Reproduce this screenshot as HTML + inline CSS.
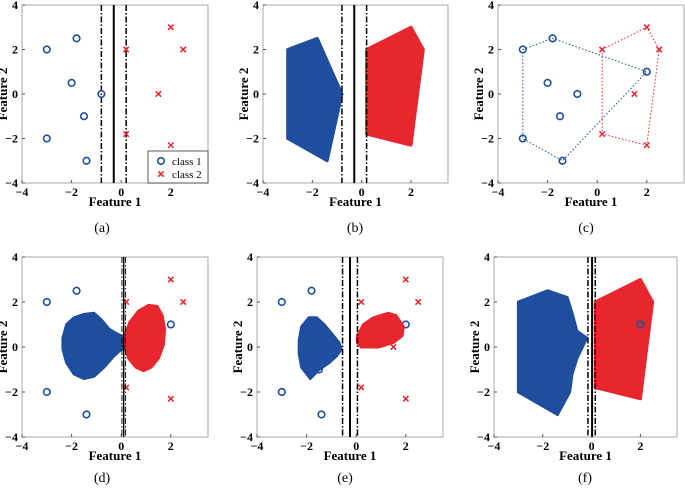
<!DOCTYPE html>
<html><head><meta charset="utf-8"><style>
html,body{margin:0;padding:0;background:#fff;}
svg text{font-family:'Liberation Serif','DejaVu Serif',serif !important;}
</style></head><body>
<svg id="fig" width="685" height="488" xmlns="http://www.w3.org/2000/svg"></svg>
<script>
const xTicks=[-4,-2,0,2];
const yTicks=[-4,-2,0,2,4];
const class1X=[-3,-1.8,-2,-0.8,-1.5,-3,-1.4];
const class1Y=[2,2.5,0.5,0,-1,-2,-3];
const class2X=[0.2,2,2.5,1.5,0.2,2];
const class2Y=[2,3,2,0,-1.8,-2.3];
const moved1X=[-3,-1.8,-2,-0.8,-1.5,-3,-1.4,2];
const moved1Y=[2,2.5,0.5,0,-1,-2,-3,1];
const hullBlueX=[-3,-1.8,-0.8,-1.4,-3];
const hullBlueY=[2,2.5,0,-3,-2];
const hullRedX=[0.2,2,2.5,2,0.2];
const hullRedY=[2,3,2,-2.3,-1.8];
const hullC1X=[-3,-1.8,2,-1.4,-3];
const hullC1Y=[2,2.5,1,-3,-2];
const dBlueX=[-2.35,-2.2,-1.9,-1.5,-1.1,-0.8,-0.5,-0.2,0.15,0.1,-0.3,-0.7,-1.1,-1.5,-1.9,-2.2,-2.35];
const dBlueY=[0.4,1.0,1.3,1.45,1.5,1.2,0.8,0.6,0.4,0.0,-0.4,-0.9,-1.3,-1.4,-1.2,-0.7,-0.1];
const dRedX=[0.15,0.35,0.7,1.1,1.45,1.65,1.75,1.7,1.5,1.2,0.9,0.6,0.3,0.15];
const dRedY=[0.5,1.1,1.6,1.85,1.8,1.4,0.8,0.1,-0.5,-0.9,-1.05,-0.9,-0.5,0.0];
const eBlueX=[-2.3,-2.2,-1.9,-1.6,-1.3,-1.0,-0.7,-0.6,-0.8,-1.1,-1.5,-1.85,-2.2,-2.3];
const eBlueY=[0.3,0.9,1.3,1.3,1.0,0.6,0.2,-0.1,-0.4,-0.7,-1.0,-1.4,-0.9,-0.3];
const eRedX=[0.05,0.3,0.7,1.3,1.6,1.9,1.85,1.5,0.9,0.2,0.05];
const eRedY=[0.5,1.0,1.3,1.5,1.4,0.9,0.5,0.2,0.0,0.0,0.2];
const fBlueX=[-3,-1.8,-1.0,-0.8,-0.6,-0.2,-0.6,-0.8,-0.9,-1.4,-3];
const fBlueY=[2,2.5,2.2,1.5,0.7,0.4,-0.5,-1.2,-2.0,-3,-2];
const fRedX=[0.15,2,2.5,2,0.15];
const fRedY=[2,3,2,-2.3,-1.8];
const linesA=[-0.8,-0.3,0.2];
const linesD=[0.03,0.1,0.17];
const linesE=[-0.55,-0.25,0.05];
const linesF=[-0.15,0.02,0.15];

const NS="http://www.w3.org/2000/svg";
const svg=document.getElementById('fig');
const BLUE="#1f4e9f",RED="#e8262d";
function mk(tag,attrs,parent){const e=document.createElementNS(NS,tag);for(const k in attrs)e.setAttribute(k,attrs[k]);if(tag==='text')e.style.fontFamily="'Liberation Serif', serif";(parent||svg).appendChild(e);return e;}
function panel(name,L,R,T,B,cap,capX,capY,labY){
  const g=mk('g',{});
  
  
  const sx=v=>L+(v+4)/7.5*(R-L), sy=v=>B-(v+4)/8*(B-T);
  const box=mk('rect',{x:L,y:T,width:R-L,height:B-T,fill:'#fff',stroke:'#aaa','stroke-width':1},g);
  
  
  xTicks.forEach(t=>{mk('line',{x1:sx(t),x2:sx(t),y1:B,y2:B-3,stroke:'#555'},g);
    const tx=mk('text',{x:sx(t),y:B+13,'font-size':12,'font-weight':'bold','text-anchor':'middle'},g);tx.textContent=t<0?'\u2212'+(-t):t;
    });
  yTicks.forEach(t=>{mk('line',{x1:L,x2:L+3,y1:sy(t),y2:sy(t),stroke:'#555'},g);
    const tx=mk('text',{x:L-4,y:sy(t)+4,'font-size':12,'font-weight':'bold','text-anchor':'end'},g);tx.textContent=t<0?'\u2212'+(-t):t;
    });
  const xl=mk('text',{x:(L+R)/2,y:labY,'font-size':13,'font-weight':'bold','text-anchor':'middle'},g);xl.textContent='Feature 1';
  
  const yx=L-15,yy=(T+B)/2;
  const yl=mk('text',{x:yx,y:yy,'font-size':13,'font-weight':'bold','text-anchor':'middle',transform:`rotate(-90 ${yx} ${yy})`},g);yl.textContent='Feature 2';
  
  const c=mk('text',{x:capX,y:capY,'font-size':14,'text-anchor':'middle'},g);c.textContent=cap;
  
  return {g,sx,sy,L,R,T,B};
}
function poly(p,xs,ys,fill,name,opts){
  const pts=xs.map((x,i)=>p.sx(x)+','+p.sy(ys[i])).join(' ');
  const e=mk('polygon',Object.assign({points:pts,fill:fill,stroke:fill,'stroke-width':3,'stroke-linejoin':'round'},opts||{}),p.g);
  
}
function circles(p,xs,ys){xs.forEach((x,i)=>{const e=mk('circle',{cx:p.sx(x),cy:p.sy(ys[i]),r:3.3,fill:'none',stroke:BLUE,'stroke-width':1.6},p.g);
  });}
function crosses(p,xs,ys){xs.forEach((x,i)=>{const cx=p.sx(x),cy=p.sy(ys[i]),s=2.7;
  const e=mk('path',{d:`M${cx-s},${cy-s}L${cx+s},${cy+s}M${cx-s},${cy+s}L${cx+s},${cy-s}`,stroke:RED,'stroke-width':1.5},p.g);
  });}
function vlines(p,xs,thin){const st=['6,2,1.5,2','','6,2,1.5,2'];xs.forEach((x,i)=>{
  const e=mk('line',{x1:p.sx(x),x2:p.sx(x),y1:p.T,y2:p.B,stroke:'#000','stroke-width':thin?(i==1?1.4:0.9):(i==1?2:1.5),'stroke-dasharray':st[i]},p.g);
  });}

// (a)
let p=panel('panel-a',22,208,5,183,'(a)',102,232,206);
vlines(p,linesA);circles(p,class1X,class1Y);crosses(p,class2X,class2Y);
const lg=mk('g',{},p.g);
mk('rect',{x:148,y:151,width:60,height:32,fill:'#fff',stroke:'#333','stroke-width':0.8},lg);
mk('circle',{cx:161,cy:161,r:3.3,fill:'none',stroke:BLUE,'stroke-width':1.6},lg);
let t=mk('text',{x:172,y:165,'font-size':11},lg);t.textContent='class 1';
mk('path',{d:'M158.3,171.3L163.7,176.7M158.3,176.7L163.7,171.3',stroke:RED,'stroke-width':1.5},lg);
t=mk('text',{x:172,y:178,'font-size':11},lg);t.textContent='class 2';
// (b)
p=panel('panel-b',263,448,5,183,'(b)',355,232,206);
poly(p,hullBlueX,hullBlueY,BLUE,'class1-region');poly(p,hullRedX,hullRedY,RED,'class2-region');vlines(p,linesA);
// (c)
p=panel('panel-c',498,684,5,183,'(c)',586,232,206);
poly(p,hullC1X,hullC1Y,'none','class1-hull',{stroke:BLUE,'stroke-width':1,'stroke-dasharray':'1.5,2'});
poly(p,hullRedX,hullRedY,'none','class2-hull',{stroke:RED,'stroke-width':1,'stroke-dasharray':'1.5,2'});
circles(p,moved1X,moved1Y);crosses(p,class2X,class2Y);
// (d)
p=panel('panel-d',22,208,257,437,'(d)',102,482,460);
circles(p,moved1X,moved1Y);crosses(p,class2X,class2Y);
poly(p,dBlueX,dBlueY,BLUE,'class1-region');poly(p,dRedX,dRedY,RED,'class2-region');vlines(p,linesD,true);
// (e)
p=panel('panel-e',257,443,257,437,'(e)',345,482,460);
circles(p,moved1X,moved1Y);crosses(p,class2X,class2Y);
poly(p,eBlueX,eBlueY,BLUE,'class1-region');poly(p,eRedX,eRedY,RED,'class2-region');vlines(p,linesE);
// (f)
p=panel('panel-f',494,677,257,437,'(f)',585,482,460);
poly(p,fBlueX,fBlueY,BLUE,'class1-region');poly(p,fRedX,fRedY,RED,'class2-region');vlines(p,linesF);
circles(p,[2],[1]);
</script>
</body></html>
